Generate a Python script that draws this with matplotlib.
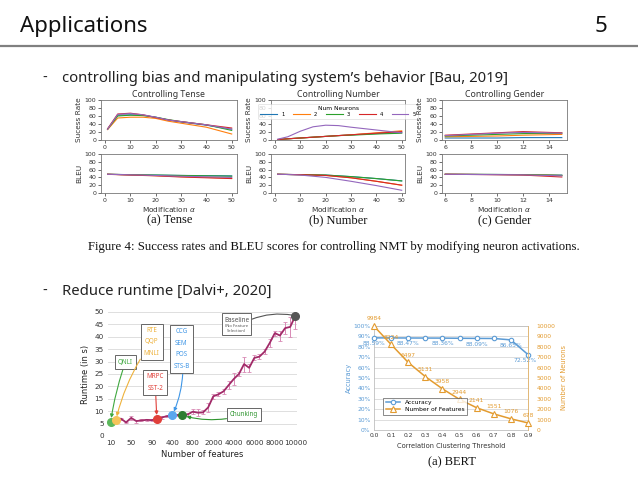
import matplotlib
matplotlib.use('Agg')
import matplotlib.pyplot as plt
from matplotlib.lines import Line2D
import numpy as np

W, H = 638, 478
fig = plt.figure(figsize=(W / 100, H / 100), dpi=100)
fig.patch.set_facecolor('white')


def add_ax(x, y, w, h):
    return fig.add_axes([x / W, 1 - (y + h) / H, w / W, h / H])


def fx(x):
    return x / W


def fy(y):
    return 1 - y / H


SANS = ['Noto Sans', 'DejaVu Sans']
SERIF = ['Liberation Serif', 'DejaVu Serif']

# ---------------- data: Bau 2019 ----------------
neurons = ['1', '2', '3', '4', '5']
neuron_colors = ['#1f77b4', '#ff7f0e', '#2ca02c', '#d62728', '#9467bd']

tense_alpha = [1, 5, 10, 15, 20, 25, 30, 40, 50]
tense_success = [
    [27, 62, 63, 62, 57, 50, 45, 37, 27],
    [26, 55, 57, 57, 54, 47, 42, 32, 15],
    [27, 60, 62, 61, 57, 51, 46, 38, 24],
    [28, 65, 67, 63, 56, 50, 46, 38, 30],
    [27, 64, 66, 63, 57, 50, 46, 38, 27],
]
tense_bleu = [
    [48, 47.5, 47, 46.5, 46, 45.5, 45, 44.5, 44],
    [48, 47.5, 46.5, 45.5, 44.5, 43, 42, 40, 38],
    [48, 47.5, 47, 46.5, 46, 45.5, 45, 44, 43],
    [48, 47, 46, 45, 44, 42.5, 41, 39, 37],
    [48, 47.5, 46.5, 46, 45, 44, 43, 41.5, 40],
]

number_alpha = [1, 5, 10, 15, 20, 25, 30, 40, 50]
number_success = [
    [1, 3, 5, 7, 9, 11, 13, 16, 19],
    [1, 3, 5, 7, 9, 11, 13, 18, 23],
    [1, 3, 5, 7, 9, 11, 12, 15, 17],
    [1, 3, 5, 7, 9, 11, 13, 17, 21],
    [2, 8, 22, 33, 37, 36, 32, 25, 18],
]
number_bleu = [
    [48, 47.5, 47, 46.5, 46, 44, 42, 37, 31],
    [48, 47.5, 47, 46, 45, 42, 39, 30, 20],
    [48, 47.5, 47, 46.5, 46, 44, 42, 37, 31],
    [48, 47.5, 47, 46, 45, 42, 39, 30, 20],
    [48, 47.5, 46, 43, 40, 35, 30, 19, 7],
]

gender_alpha = [6, 8, 10, 12, 15]
gender_success = [
    [5, 5, 5, 6, 6],
    [8, 9, 10, 12, 14],
    [10, 12, 14, 16, 17],
    [12, 15, 18, 21, 18],
    [11, 14, 17, 19, 17],
]
gender_bleu = [
    [48, 47.8, 47.5, 47.2, 46],
    [48, 47.7, 47.3, 47, 45],
    [48, 47.7, 47.5, 47, 45],
    [48, 47.5, 47, 46, 41],
    [48, 47.5, 47, 46.5, 44],
]

# ---------------- data: Dalvi 2020 runtime ----------------
runtime_ticklabels = ['10', '50', '90', '400', '800', '2000', '4000', '6000', '8000', '10000']
runtime_values = [5.6, 6.3, 7.0, 5.5, 7.3, 6.0, 6.3, 6.5, 6.4, 6.8, 7.5, 8.0, 8.3,
                  8.5, 8.3, 8.7, 9.8, 9.4, 9.5, 11.5, 16.0, 16.8, 18.0, 20.5, 23.0,
                  25.0, 29.0, 27.5, 31.5, 32.0, 34.0, 37.5, 41.5, 40.5, 43.5, 44.0, 48.5]
runtime_err = [0.2, 0.3, 0.4, 0.3, 0.8, 0.6, 0.4, 0.4, 0.5, 0.8, 0.5, 0.5, 0.5,
               0.5, 0.5, 0.6, 1.0, 1.5, 0.8, 2.0, 1.0, 0.8, 1.0, 1.5, 2.5,
               1.0, 3.0, 1.5, 1.0, 1.0, 1.0, 1.5, 1.0, 2.0, 2.5, 4.0, 5.5]

# ---------------- data: Dalvi 2020 BERT ----------------
bert_threshold = [0.0, 0.1, 0.2, 0.3, 0.4, 0.5, 0.6, 0.7, 0.8, 0.9]
bert_accuracy = [88.59, 88.55, 88.47, 88.42, 88.36, 88.2, 88.09, 88.0, 86.65, 72.52]
bert_features = [9984, 8224, 6497, 5131, 3958, 2944, 2141, 1551, 1076, 678]
bert_acc_labeled = [0, 2, 4, 6, 8, 9]

# ---------------- slide text ----------------
fig.text(fx(20), fy(32), 'Applications', fontsize=16, family=SANS, color='#111')
fig.text(fx(607), fy(32), '5', fontsize=16, family=SANS, color='#111', ha='right')
fig.add_artist(Line2D([0, 1], [fy(46), fy(46)], color='#808080', lw=1.6))
fig.text(fx(42), fy(82), '-', fontsize=10.5, family=SANS, color='#222')
fig.text(fx(62), fy(82), 'controlling bias and manipulating system\u2019s behavior [Bau, 2019]',
         fontsize=10.7, family=SANS, color='#222')
fig.text(fx(42), fy(295), '-', fontsize=10.5, family=SANS, color='#222')
fig.text(fx(62), fy(295), 'Reduce runtime [Dalvi+, 2020]', fontsize=10.7, family=SANS, color='#222')


# ---------------- small Bau panels ----------------
def style_small(ax):
    for s in ax.spines.values():
        s.set_color('#777')
        s.set_linewidth(0.6)
    ax.tick_params(labelsize=4.5, length=2, width=0.5, pad=1.5, colors='#333')
    ax.set_ylim(0, 100)
    ax.set_yticks([0, 20, 40, 60, 80, 100])


panels = [
    (101, 136, 'Controlling Tense', tense_alpha, tense_success, tense_bleu, (-1.6, 52.1), [0, 10, 20, 30, 40, 50]),
    (271, 134, 'Controlling Number', number_alpha, number_success, number_bleu, (-1.6, 51.3), [0, 10, 20, 30, 40, 50]),
    (442, 125, 'Controlling Gender', gender_alpha, gender_success, gender_bleu, (5.75, 15.4), [6, 8, 10, 12, 14]),
]
for (x0, w, title, xs, succ, bleu, xlim, xt) in panels:
    axt = add_ax(x0, 100, w, 40)
    axb = add_ax(x0, 154, w, 39)
    for i, name in enumerate(neurons):
        axt.plot(xs, succ[i], color=neuron_colors[i], lw=0.8, label=name)
        axb.plot(xs, bleu[i], color=neuron_colors[i], lw=0.8)
    for ax in (axt, axb):
        style_small(ax)
        ax.set_xlim(*xlim)
        ax.set_xticks(xt)
    axt.set_title(title, fontsize=6.3, pad=2.5, color='#333', family=SANS)
    axt.set_ylabel('Sucess Rate', fontsize=5.3, labelpad=1.5, color='#333')
    axb.set_ylabel('BLEU', fontsize=5.3, labelpad=1.5, color='#333')
    axb.set_xlabel(r'Modification $\alpha$', fontsize=5.3, labelpad=1.5, color='#333')
    if title == 'Controlling Number':
        leg = axt.legend(title='Num Neurons', ncol=5, fontsize=3.8, title_fontsize=4.3,
                         loc='upper center', bbox_to_anchor=(0.5, 0.97), frameon=True,
                         handlelength=3.2, columnspacing=1.6, borderpad=0.4,
                         labelspacing=0.2, handletextpad=0.8)
        leg.get_frame().set_linewidth(0.4)

for (cx, t) in [(170, '(a) Tense'), (338, '(b) Number'), (505, '(c) Gender')]:
    fig.text(fx(cx), fy(220), t, fontsize=9, family=SERIF, ha='center', va='center', color='#111')
fig.text(fx(334), fy(247), 'Figure 4: Success rates and BLEU scores for controlling NMT by modifying neuron activations.',
         fontsize=9.2, family=SERIF, ha='center', va='center', color='#111')

# ---------------- runtime chart ----------------
axr = add_ax(108, 312, 189, 124)
rx = np.arange(len(runtime_values)) / 4.0
axr.set_xlim(-0.13, 9.08)
axr.set_ylim(0, 50)
axr.set_yticks(range(0, 51, 5))
axr.set_xticks(range(len(runtime_ticklabels)))
axr.set_xticklabels(runtime_ticklabels)
axr.yaxis.grid(True, color='#d9d9d9', lw=0.6)
axr.set_axisbelow(True)
for s in axr.spines.values():
    s.set_visible(False)
axr.tick_params(length=0, labelsize=5.2, colors='#333', pad=3)
axr.errorbar(rx, runtime_values, yerr=runtime_err, color='#a12a68', lw=1.3,
             ecolor='#d88ab5', elinewidth=0.7, capsize=1.2, capthick=0.6, zorder=3)
axr.set_ylabel('Runtime (in s)', fontsize=6, color='#222', labelpad=3)
axr.set_xlabel('Number of features', fontsize=6, color='#222', labelpad=3)

dots = [(0, '#5cb85c'), (1, '#f5c45a'), (9, '#e0403a'), (12, '#5aa7ee'), (14, '#2e7d32'), (36, '#555555')]
for idx, c in dots:
    axr.plot(rx[idx], runtime_values[idx], 'o', ms=5.5, color=c, zorder=5, clip_on=False)

box = dict(boxstyle='square,pad=0.5', fc='white', ec='#666', lw=0.7)
lab_kw = dict(fontsize=4.5, fontweight='bold', ha='center', va='center', family=SANS)


def annot(text, xy, xytext, color, rad, textcolor=None, arrow='-|>'):
    axr.annotate(text, xy=xy, xytext=xytext, color=textcolor or color, bbox=box,
                 arrowprops=dict(arrowstyle=arrow, color=color, lw=0.8, mutation_scale=5,
                                 connectionstyle='arc3,rad=%s' % rad, shrinkA=0, shrinkB=3),
                 zorder=6, linespacing=1.9, **lab_kw)


annot('QNLI', (rx[0], runtime_values[0]), (0.72, 29.8), '#3fa83f', 0.05)
annot('RTE\nQQP\nMNLI', (rx[1], runtime_values[1]), (2.0, 38.0), '#eeb23c', 0.1)
annot('MRPC\nSST-2', (rx[9], runtime_values[9]), (2.17, 21.5), '#e0403a', 0.0)
annot('CCG\nSEM\nPOS\nSTS-B', (rx[12], runtime_values[12]), (3.45, 35.0), '#3f96e6', -0.15)
annot('Chunking', (rx[14], runtime_values[14]), (6.5, 8.6), '#2f952f', -0.15)

# Baseline box with connector
axr.add_patch(plt.Rectangle((5.43, 40.6), 1.42, 9.0, fc='white', ec='#666', lw=0.7, zorder=5.5))
axr.annotate('', xy=(rx[36], runtime_values[36]), xytext=(6.85, 47.0),
             arrowprops=dict(arrowstyle='-', color='#555', lw=0.8,
                             connectionstyle='arc3,rad=-0.15', shrinkA=0, shrinkB=2), zorder=5)
axr.text(6.14, 46.6, 'Baseline', color='#555', fontsize=4.6, fontweight='bold',
         ha='center', va='center', family=SANS, zorder=7)
axr.text(6.14, 43.3, '(No Feature\nSelection)', color='#555', fontsize=3.0, fontweight='bold',
         ha='center', va='center', family=SANS, zorder=7, linespacing=1.4)

# ---------------- BERT chart ----------------
blue = '#5b9bd5'
orange = '#e39b2f'
axa = add_ax(374, 326, 154, 104)
axa.set_xlim(0, 0.9)
axa.set_ylim(0, 100)
axa.set_yticks(range(0, 101, 10))
axa.set_yticklabels(['%d%%' % v for v in range(0, 101, 10)])
axa.set_xticks(bert_threshold)
axa.set_xticklabels(['%.1f' % t for t in bert_threshold])
axa.yaxis.grid(True, color='#d0d0d0', lw=0.5)
axa.set_axisbelow(True)
for s in axa.spines.values():
    s.set_color('#bfbfbf')
    s.set_linewidth(0.6)
axa.tick_params(length=0, labelsize=4.3, pad=2.5)
axa.tick_params(axis='y', colors=blue)
axa.tick_params(axis='x', colors='#333')
la, = axa.plot(bert_threshold, bert_accuracy, '-o', color=blue, lw=1.1, ms=3.2, mfc='white',
               mec=blue, mew=0.8, label='Accuracy', zorder=4, clip_on=False)
for i in bert_acc_labeled:
    xt_ = bert_threshold[i] - (0.015 if i == len(bert_threshold) - 1 else 0)
    axa.text(xt_, bert_accuracy[i] - 5.5, '%.2f%%' % bert_accuracy[i],
             color=blue, fontsize=4.3, ha='center', va='center', zorder=5)
axa.set_ylabel('Accuracy', fontsize=4.8, color=blue, labelpad=1)
axa.set_xlabel('Correlation Clustering Threshold', fontsize=4.8, color='#333', labelpad=3)

axf = axa.twinx()
axf.set_ylim(0, 10000)
axf.set_yticks(range(0, 10001, 1000))
for s in axf.spines.values():
    s.set_visible(False)
axf.spines['right'].set_visible(True)
axf.spines['right'].set_color('#e8b66a')
axf.spines['right'].set_linewidth(0.6)
axf.tick_params(length=0, labelsize=4.3, colors=orange, pad=6)
lf, = axf.plot(bert_threshold, bert_features, '-^', color=orange, lw=1.1, ms=3.8, mfc='white',
               mec=orange, mew=0.8, label='Number of Features', zorder=4, clip_on=False)
for t, v in zip(bert_threshold, bert_features):
    axf.text(t, v + 450, '%d' % v, color=orange, fontsize=4.3, ha='center', va='bottom')
axf.set_ylabel('Number of Neurons', fontsize=4.8, color=orange, labelpad=4)
lg = axf.legend([la, lf], ['Accuracy', 'Number of Features'], loc='lower left',
                bbox_to_anchor=(0.04, 0.12), fontsize=4.3, frameon=True, fancybox=False,
                edgecolor='#333', handlelength=2.4, borderpad=0.4, labelspacing=0.3)
lg.get_frame().set_linewidth(0.5)

fig.text(fx(452), fy(462), '(a) BERT', fontsize=9, family=SERIF, ha='center', va='center', color='#111')

fig.savefig('out.png', dpi=100, facecolor='white')
